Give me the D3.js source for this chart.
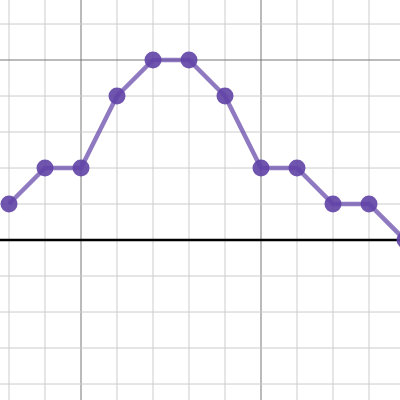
<!DOCTYPE html>
<html>
<head>
<meta charset="utf-8">
<script src="https://cdn.jsdelivr.net/npm/d3@7"></script>
<style>body{margin:0;background:#fff}</style>
</head>
<body>
<svg id="chart"></svg>
<script>
const width = 400, height = 400;

// data (grid units)
const xs = [3, 4, 5, 6, 7, 8, 9, 10, 11, 12, 13, 14];
const ys = [1, 2, 2, 4, 5, 5, 4, 2, 2, 1, 1, 0];

const x = d3.scaleLinear().domain([2.75, 2.75 + 400 / 36]).range([0, width]);
const y = d3.scaleLinear().domain([-160 / 36, 240 / 36]).range([height, 0]);

const svg = d3.select("#chart").attr("width", width).attr("height", height);

// minor grid
const xt = d3.range(3, 14);
const yt = d3.range(-4, 7);
svg.selectAll(".vx").data(xt).join("line")
  .attr("x1", d => x(d)).attr("x2", d => x(d)).attr("y1", 0).attr("y2", height)
  .attr("stroke", d => d % 5 === 0 ? "#777" : "#ccc")
  .attr("stroke-width", 1);
svg.selectAll(".hy").data(yt.filter(d => d !== 0)).join("line")
  .attr("y1", d => y(d)).attr("y2", d => y(d)).attr("x1", 0).attr("x2", width)
  .attr("stroke", d => d % 5 === 0 ? "#777" : "#ccc")
  .attr("stroke-width", 1);

// x axis
svg.append("line")
  .attr("x1", 0).attr("x2", width).attr("y1", y(0)).attr("y2", y(0))
  .attr("stroke", "#000").attr("stroke-width", 2.5);

const pts = xs.map((d, i) => [d, ys[i]]);
svg.append("path")
  .attr("d", d3.line().x(d => x(d[0])).y(d => y(d[1]))(pts))
  .attr("fill", "none")
  .attr("stroke", "#6042a6").attr("stroke-opacity", 0.7)
  .attr("stroke-width", 4.5);

svg.selectAll(".pt").data(pts).join("circle")
  .attr("cx", d => x(d[0])).attr("cy", d => y(d[1]))
  .attr("r", 8.5)
  .attr("fill", "#6042a6").attr("fill-opacity", 0.9);
</script>
</body>
</html>
